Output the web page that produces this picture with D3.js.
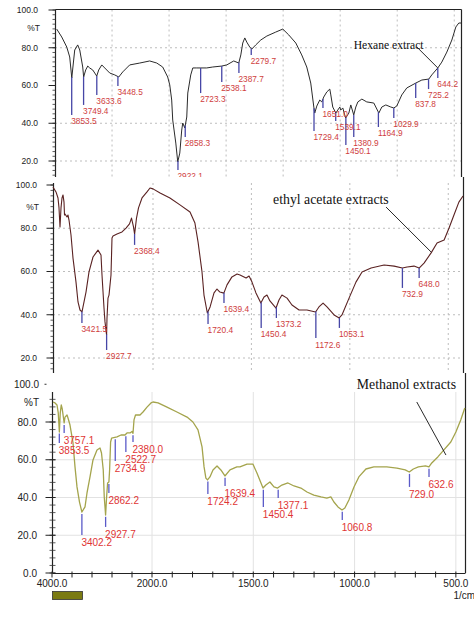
<!DOCTYPE html>
<html>
<head>
<meta charset="utf-8">
<script src="https://cdn.jsdelivr.net/npm/d3@7/dist/d3.min.js"></script>
<style>
  body { margin: 0; background: #fff; }
  svg { display: block; }
  text { font-family: "Liberation Sans", Arial, sans-serif; }
  text.caption { font-family: "Liberation Serif", "Times New Roman", serif; }
</style>
</head>
<body>
<div id="chart"></div>
<script>
// ---- spectra: [wavenumber (1/cm), %T] ----
const hexSpectrum = [
  [3985,89.9],[3941,85.7],[3897,80.4],[3871,75.1],[3853,64.0],[3827,78.8],[3801,81.5],[3783,78.8],
  [3757,69.8],[3749,64.5],[3731,68.2],[3713,70.3],[3696,69.3],[3669,68.2],[3634,65.0],[3617,68.2],
  [3590,70.9],[3564,69.3],[3520,66.6],[3476,65.6],[3441,64.5],[3406,67.2],[3345,70.9],[3257,71.9],
  [3170,73.0],[3108,71.9],[3056,69.8],[3012,64.5],[2994,60.3],[2977,52.3],[2968,41.7],[2941,29.5],
  [2924,19.5],[2906,24.2],[2889,36.4],[2880,40.1],[2862,37.5],[2845,43.3],[2836,56.0],[2810,65.6],
  [2792,69.3],[2757,69.3],[2722,69.3],[2670,69.3],[2617,69.8],[2538,70.3],[2494,70.9],[2433,73.0],
  [2389,71.9],[2371,76.2],[2354,82.5],[2336,85.2],[2319,83.0],[2293,80.4],[2275,79.3],[2240,81.5],
  [2196,84.1],[2143,86.2],[2065,88.3],[2003,89.9],[1951,86.8],[1889,82.5],[1837,76.2],[1793,69.8],
  [1758,61.3],[1731,48.6],[1723,45.4],[1705,49.1],[1679,52.3],[1661,51.3],[1644,53.9],[1617,56.6],
  [1591,58.1],[1582,55.0],[1565,48.6],[1538,45.4],[1521,47.0],[1503,48.6],[1495,47.0],[1477,48.1],
  [1460,44.4],[1451,42.8],[1424,45.4],[1407,49.7],[1381,44.4],[1363,48.6],[1345,51.3],[1310,52.8],
  [1267,51.3],[1205,50.7],[1161,45.4],[1135,48.6],[1100,49.7],[1056,48.6],[1030,48.1],[1004,49.1],
  [960,55.0],[916,58.7],[837,61.3],[784,62.9],[723,63.4],[697,65.6],[644,69.3],[609,72.4],
  [565,77.7],[521,84.1],[486,91.0],[460,93.1],[433,93.1]
];
const eaSpectrum = [
  [4000,99.1],[3940,96.8],[3900,94.0],[3880,89.4],[3860,80.6],[3840,89.4],[3820,94.0],[3800,95.4],
  [3780,92.1],[3770,86.1],[3760,86.6],[3720,85.2],[3700,86.1],[3680,83.8],[3640,76.9],[3600,66.2],
  [3540,55.1],[3500,45.9],[3460,42.2],[3420,41.3],[3400,43.6],[3340,50.5],[3280,59.8],[3200,66.7],
  [3100,69.9],[3040,67.6],[3020,58.4],[2980,43.1],[2960,36.7],[2928,30.6],[2920,38.5],[2900,47.7],
  [2880,49.1],[2840,58.4],[2820,75.5],[2800,76.4],[2720,77.3],[2620,78.3],[2540,80.1],[2470,82.0],
  [2430,84.7],[2390,80.6],[2368,77.3],[2330,84.7],[2290,89.4],[2220,94.0],[2120,96.8],[2060,98.6],
  [2000,98.2],[1964,96.3],[1914,94.0],[1863,90.8],[1812,87.5],[1787,82.4],[1771,73.6],[1751,59.8],
  [1741,49.1],[1724,40.8],[1710,43.6],[1690,50.1],[1675,51.9],[1660,50.5],[1640,50.0],[1624,53.8],
  [1599,57.5],[1573,58.8],[1558,58.4],[1527,57.0],[1512,57.9],[1497,55.1],[1477,50.1],[1452,45.4],
  [1436,48.2],[1421,49.1],[1406,46.4],[1375,43.1],[1360,46.8],[1345,49.1],[1319,47.7],[1294,44.5],
  [1258,42.2],[1218,42.2],[1174,41.3],[1157,43.6],[1136,45.4],[1116,43.6],[1080,39.9],[1054,38.5],
  [1040,39.9],[1004,47.7],[969,55.1],[938,59.8],[892,61.6],[826,63.0],[775,62.5],[733,61.6],
  [709,62.1],[674,62.5],[648,61.6],[623,63.9],[587,68.6],[557,73.2],[521,74.6],[496,80.1],
  [471,86.1],[446,92.1],[425,94.9]
];
const meSpectrum = [
  [3980,90.6],[3940,90.1],[3900,89.0],[3875,84.8],[3853,74.7],[3835,84.8],[3815,89.0],[3795,86.9],
  [3757,79.5],[3740,82.6],[3700,83.7],[3680,82.1],[3640,78.4],[3580,68.9],[3540,56.2],[3500,45.6],
  [3450,37.6],[3402,32.3],[3340,35.0],[3300,42.4],[3240,50.9],[3180,59.9],[3100,65.2],[3040,66.2],
  [3010,63.6],[2975,54.6],[2955,40.3],[2928,30.7],[2908,40.3],[2888,47.7],[2862,48.2],[2848,54.6],
  [2828,69.4],[2808,71.5],[2700,72.1],[2620,73.1],[2540,73.1],[2500,74.2],[2440,74.2],[2400,75.0],
  [2380,74.0],[2360,81.1],[2330,83.7],[2240,83.7],[2180,85.3],[2100,87.9],[2020,90.1],[1995,90.6],
  [1970,90.1],[1926,87.9],[1877,85.3],[1827,82.6],[1798,80.0],[1773,75.8],[1753,66.8],[1743,56.2],
  [1734,50.3],[1726,49.3],[1714,50.9],[1699,54.6],[1679,56.7],[1660,54.6],[1640,51.4],[1615,54.6],
  [1581,56.2],[1566,56.2],[1531,57.7],[1502,57.7],[1482,53.0],[1462,47.7],[1452,45.0],[1438,46.6],
  [1418,48.2],[1398,45.6],[1380,45.0],[1359,46.6],[1329,47.7],[1299,46.1],[1265,45.0],[1235,42.9],
  [1201,41.3],[1166,40.3],[1137,39.7],[1117,40.3],[1102,37.6],[1082,35.0],[1062,33.4],[1048,34.4],
  [1028,38.7],[1003,45.6],[979,50.9],[944,55.1],[905,56.2],[841,56.2],[791,55.6],[750,54.6],
  [730,53.5],[710,55.1],[685,56.2],[650,56.7],[633,56.2],[619,58.3],[589,61.5],[559,65.2],
  [525,69.4],[500,74.7],[476,81.1],[456,87.4]
];

// ---- peak picks: wavenumber and the %T where the marker ends ----
const hexPeaks    = [3853.5, 3749.4, 3633.6, 3448.5, 2922.1, 2858.3, 2723.3, 2538.1, 2387.7, 2279.7,
                     1729.4, 1651.0, 1539.1, 1450.1, 1380.9, 1164.9, 1029.9, 837.8, 725.2, 644.2];
const hexPeakEnds = [44.4, 49.7, 55.0, 59.7, 15.2, 32.7, 56.0, 61.9, 66.6, 76.2,
                     35.9, 48.1, 41.2, 28.5, 32.7, 38.0, 42.8, 53.4, 58.1, 64.0];
const eaPeaks     = [3421.5, 2927.7, 2368.4, 1720.4, 1639.4, 1450.4, 1373.2, 1172.6, 1053.1, 732.9, 648.0];
const eaPeakEnds  = [36.2, 23.7, 72.3, 35.7, 45.4, 33.9, 38.5, 29.2, 33.9, 52.4, 57.0];
const mePeaks     = [3853.5, 3757.1, 3402.2, 2927.7, 2862.2, 2734.9, 2522.7, 2380.0,
                     1724.2, 1639.4, 1450.4, 1377.1, 1060.8, 729.0, 632.6];
const mePeakEnds  = [68.9, 74.2, 20.1, 24.4, 42.4, 59.3, 64.1, 69.4,
                     41.9, 46.1, 35.0, 39.7, 28.1, 45.6, 50.9];

// ---- axis ticks ----
const yTicksTop    = [100, 80, 60, 40, 20];
const yTicksBottom = [80, 60, 40, 20, 0];
const xTickLabels  = [4000, 2000, 1500, 1000, 500];
const xTicksHigh   = d3.range(4000, 1999, -400);
const xTicksLow    = d3.range(1900, 499, -100);

// ---- captions: text, text anchor [w, %T], leader from [w, %T] to [w, %T] ----
const captions = [
  { panel: 0, text: 'Hexane extract', at: [1381, 79.3], from: [828, 80.4], to: [644, 69.3], size: 11.6 },
  { panel: 1, text: 'ethyl acetate extracts', at: [1390, 91.2], from: [816, 89.8], to: [587, 69.0], size: 13.8 },
  { panel: 2, text: 'Methanol extracts', at: [989, 97.5], from: [693, 90.6], to: [549, 62.5], size: 13.8 }
];

const W = 474, H = 628;
const svg = d3.select('#chart').append('svg').attr('width', W).attr('height', H);

function curveAt (spectrum, w) {
  for (let i = 1; i < spectrum.length; i++) {
    const [w0, t0] = spectrum[i - 1], [w1, t1] = spectrum[i];
    if (w <= w0 && w >= w1) return t0 + (t1 - t0) * (w0 - w) / (w0 - w1);
  }
  return spectrum[spectrum.length - 1][1];
}

const panels = [
  {
    spectrum: hexSpectrum, peaks: hexPeaks, ends: hexPeakEnds,
    x: d3.scaleLinear().domain([4000, 432]).range([55, 462]),
    y: d3.scaleLinear().domain([100, 20]).range([10, 161]),
    top: 9.5, bottom: 177, axisTop: 9.5,
    lineColor: '#2b2b2b', lineWidth: 1,
    gridX: [3500, 3000, 2500, 2000, 1500, 1000, 500], gridY: [80, 40, 20], dashed: true,
    yTicks: yTicksTop, minorStep: 2.5, minorMin: 12.5, labelEnd: 38, labelSize: 8.5,
    pctY: 28, peakSize: 8.3, peakGap: 0, tickColor: '#4646a6', labelColor: '#cf3d3d',
    topBorder: true
  },
  {
    spectrum: eaSpectrum, peaks: eaPeaks, ends: eaPeakEnds,
    x: d3.scaleLinear().domain([4000, 2000, 420]).range([53, 153, 464]),
    y: d3.scaleLinear().domain([100, 20]).range([185, 358]),
    top: 177, bottom: 373, axisTop: 183,
    lineColor: '#5a2222', lineWidth: 1.1,
    gridX: [2000, 1500, 1000, 500], gridY: [80, 60, 40, 20], dashed: true,
    yTicks: yTicksTop, minorStep: 2.5, minorMin: 12.5, labelEnd: 37, labelSize: 8.5,
    pctY: 207, peakSize: 8.4, peakGap: 0, tickColor: '#4646a6', labelColor: '#cf3d3d'
  },
  {
    spectrum: meSpectrum, peaks: mePeaks, ends: mePeakEnds,
    x: d3.scaleLinear().domain([4000, 2000, 450]).range([52, 152, 466]),
    y: d3.scaleLinear().domain([0, 100]).range([573, 384.25]),
    top: 373, bottom: 573, axisTop: 392,
    lineColor: '#a4a44c', lineWidth: 1.3,
    gridX: [2000, 1500, 1000, 500], gridY: [80, 60, 40, 20], dashed: false,
    yTicks: yTicksBottom, minorStep: 4, minorMin: 0, labelEnd: 37, labelSize: 10,
    pctY: 402, peakSize: 10, peakGap: 2, tickColor: '#5a5ac8', labelColor: '#e03434',
    bottomAxis: true
  }
];

panels.forEach((p, idx) => {
  const g = svg.append('g').attr('class', `panel-${idx}`);
  const x0 = p.x.range()[0];
  const x1 = p.x.range()[p.x.range().length - 1];
  const right = Math.round(x1) - 0.5;

  // white sheet, the lower panels are pasted over the upper ones
  g.append('rect')
    .attr('x', 0).attr('y', p.top)
    .attr('width', W).attr('height', (idx === 2 ? H : p.bottom) - p.top)
    .attr('fill', '#fff');

  // grid
  const gridTop = Math.max(p.top, p.axisTop);
  g.selectAll('line.gx').data(p.gridX).enter().append('line')
    .attr('x1', d => p.x(d)).attr('x2', d => p.x(d))
    .attr('y1', gridTop).attr('y2', p.bottom)
    .attr('stroke', p.dashed ? '#bdbdbd' : '#e2e2e2')
    .attr('stroke-width', 1)
    .attr('stroke-dasharray', p.dashed ? '2,3' : null);
  g.selectAll('line.gy').data(p.gridY).enter().append('line')
    .attr('x1', x0).attr('x2', right)
    .attr('y1', d => p.y(d)).attr('y2', d => p.y(d))
    .attr('stroke', p.dashed ? '#bdbdbd' : '#e2e2e2')
    .attr('stroke-width', 1)
    .attr('stroke-dasharray', p.dashed ? '2,3' : null);

  // frame
  const ax = Math.round(x0) + 0.5;
  g.append('line')
    .attr('x1', ax).attr('x2', ax).attr('y1', p.axisTop).attr('y2', p.bottom)
    .attr('stroke', '#222').attr('stroke-width', 1.2);
  g.append('line')
    .attr('x1', right).attr('x2', right).attr('y1', p.topBorder ? p.axisTop : p.top).attr('y2', p.bottom)
    .attr('stroke', '#222').attr('stroke-width', 1.2);
  if (p.topBorder) {
    g.append('line')
      .attr('x1', ax).attr('x2', right).attr('y1', p.axisTop).attr('y2', p.axisTop)
      .attr('stroke', '#222').attr('stroke-width', 1);
  }

  // y ticks
  const tMin = p.y.invert(p.bottom), tMax = p.y.invert(p.axisTop);
  const minor = d3.range(p.minorMin, 100.01, p.minorStep).filter(t => t >= tMin && t <= tMax + 0.01);
  const inside = p.bottomAxis ? 3 : 0;
  g.selectAll('line.ym').data(minor).enter().append('line')
    .attr('x1', ax - 3).attr('x2', ax + inside)
    .attr('y1', d => p.y(d)).attr('y2', d => p.y(d))
    .attr('stroke', '#333').attr('stroke-width', 0.8);
  g.selectAll('line.yM').data(p.yTicks.filter(t => t >= tMin && t <= tMax + 0.01)).enter().append('line')
    .attr('x1', ax - 7).attr('x2', ax + inside)
    .attr('y1', d => p.y(d)).attr('y2', d => p.y(d))
    .attr('stroke', '#222').attr('stroke-width', 1);
  g.selectAll('text.yl').data(p.yTicks).enter().append('text')
    .attr('x', p.labelEnd).attr('y', d => p.y(d)).attr('dy', '0.35em')
    .attr('text-anchor', 'end')
    .attr('font-size', p.labelSize).attr('fill', '#222')
    .text(d => d.toFixed(1));
  g.append('text')
    .attr('x', p.labelEnd + 2).attr('y', p.pctY).attr('dy', '0.35em')
    .attr('text-anchor', 'end').attr('font-size', p.labelSize).attr('fill', '#222')
    .text('%T');

  if (p.bottomAxis) {
    // 100.0 sits above the short axis line with its own dash
    g.append('text')
      .attr('x', p.labelEnd + 2).attr('y', p.y(100)).attr('dy', '0.35em')
      .attr('text-anchor', 'end').attr('font-size', p.labelSize).attr('fill', '#222')
      .text((100).toFixed(1));
    g.append('line')
      .attr('x1', ax - 8).attr('x2', ax - 6).attr('y1', p.y(100)).attr('y2', p.y(100))
      .attr('stroke', '#333');

    const base = p.y(0) + 0.5;
    g.append('line')
      .attr('x1', ax).attr('x2', right).attr('y1', base).attr('y2', base)
      .attr('stroke', '#222').attr('stroke-width', 1.2);
    g.selectAll('line.xt').data(xTicksHigh.concat(xTicksLow)).enter().append('line')
      .attr('x1', d => p.x(d)).attr('x2', d => p.x(d))
      .attr('y1', base - 2).attr('y2', base + 4)
      .attr('stroke', '#222').attr('stroke-width', 1);
    g.selectAll('text.xl').data(xTickLabels).enter().append('text')
      .attr('x', d => p.x(d)).attr('y', base + 13.5)
      .attr('text-anchor', 'middle').attr('font-size', 10).attr('fill', '#222')
      .text(d => d.toFixed(1));
    g.append('text')
      .attr('x', right - 12).attr('y', base + 25)
      .attr('font-size', 10).attr('fill', '#222')
      .text('1/cm');
    // colour swatch of the trace under the axis
    g.append('rect')
      .attr('x', ax).attr('y', base + 18).attr('width', 30).attr('height', 8)
      .attr('fill', '#7b7b12').attr('stroke', '#333').attr('stroke-width', 0.8);
  }

  // spectrum
  const line = d3.line().x(d => p.x(d[0])).y(d => p.y(d[1]));
  g.append('path')
    .datum(p.spectrum)
    .attr('d', line)
    .attr('fill', 'none')
    .attr('stroke', p.lineColor)
    .attr('stroke-width', p.lineWidth)
    .attr('stroke-linejoin', 'round');

  // peak markers
  const peaks = p.peaks.map((w, i) => ({ w, end: p.ends[i], t: curveAt(p.spectrum, w) }));
  g.selectAll('line.pk').data(peaks).enter().append('line')
    .attr('x1', d => p.x(d.w)).attr('x2', d => p.x(d.w))
    .attr('y1', d => p.y(d.t) + p.peakGap).attr('y2', d => p.y(d.end))
    .attr('stroke', p.tickColor).attr('stroke-width', 1.3);
  g.selectAll('text.pk').data(peaks).enter().append('text')
    .attr('x', d => p.x(d.w) - 0.5)
    .attr('y', d => p.y(d.end) + p.peakSize * 1.12)
    .attr('font-size', p.peakSize)
    .attr('fill', p.labelColor)
    .text(d => d.w.toFixed(1));

  // caption with leader line
  captions.filter(c => c.panel === idx).forEach(c => {
    g.append('line')
      .attr('x1', p.x(c.from[0])).attr('y1', p.y(c.from[1]))
      .attr('x2', p.x(c.to[0])).attr('y2', p.y(c.to[1]))
      .attr('stroke', '#111').attr('stroke-width', 0.9);
    g.append('text')
      .attr('class', 'caption')
      .attr('x', p.x(c.at[0])).attr('y', p.y(c.at[1]))
      .attr('font-size', c.size).attr('fill', '#111')
      .text(c.text);
  });
});
</script>
</body>
</html>
